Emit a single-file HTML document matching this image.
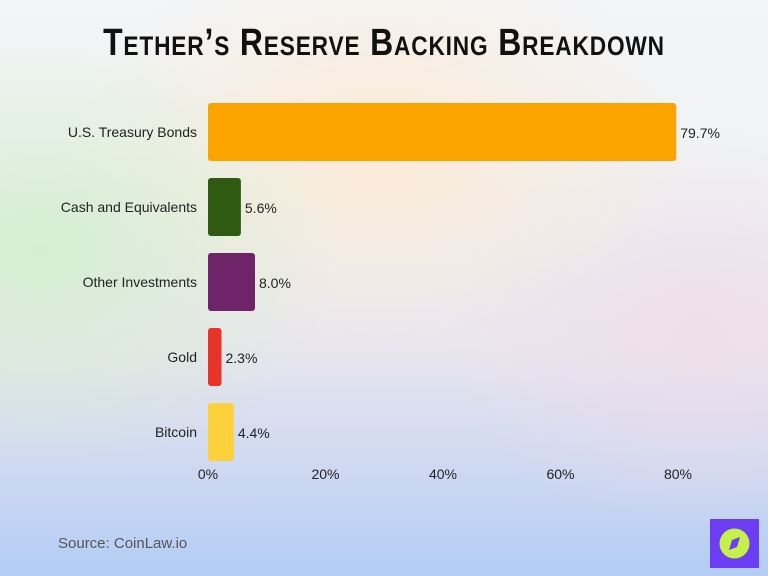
<!DOCTYPE html>
<html><head><meta charset="utf-8"><style>
body{margin:0;width:768px;height:576px;overflow:hidden;font-family:"Liberation Sans",sans-serif;}
#bg{position:absolute;left:0;top:0;width:768px;height:576px;
background:
radial-gradient(ellipse 300px 220px at 40px 250px, rgba(210,238,205,0.9), rgba(210,238,205,0)),
radial-gradient(ellipse 320px 200px at 380px 150px, rgba(255,232,208,0.8), rgba(255,232,208,0)),
radial-gradient(ellipse 260px 200px at 700px 330px, rgba(240,220,235,0.8), rgba(240,220,235,0)),
linear-gradient(180deg,#f3f5f8 0%,#f0f2f3 30%,#e9e6ee 60%,#c9d6f2 85%,#b3cdf5 100%);}
#title{position:absolute;left:0;top:22px;width:768px;text-align:center;font-weight:bold;font-size:38px;font-variant:small-caps;letter-spacing:1px;color:#111;transform:scaleX(0.84);transform-origin:384px 0;}
svg{position:absolute;left:0;top:0;}
#src{position:absolute;left:58px;top:535px;font-size:15px;color:#555;}
#logo{position:absolute;left:710px;top:519px;width:49px;height:49px;background:#6c3df2;}
</style></head><body>
<div id="bg"></div>
<div id="title">Tether’s Reserve Backing Breakdown</div>
<svg id="chart" width="768" height="576"></svg>
<div id="src">Source: CoinLaw.io</div>
<div id="logo">
<svg width="49" height="49"><circle cx="24.5" cy="24.5" r="15" fill="#c5f04a"/><path d="M30 18 L27 28 L19 31 L22 21 Z" fill="#6c3df2"/></svg></div>
<script>
const categories=["U.S. Treasury Bonds","Cash and Equivalents","Other Investments","Gold","Bitcoin"];
const values=[79.7,5.6,8.0,2.3,4.4];
const colors=["#fba400","#2f5a12","#6f2469","#e8332a","#fdd13c"];
const ticks=[0,20,40,60,80];
const svg=document.getElementById('chart');
const NS='http://www.w3.org/2000/svg';
const x=v=>208+v*(678-208)/80;
const yc=i=>132+i*75;
function mk(t,a){const e=document.createElementNS(NS,t);for(const k in a)e.setAttribute(k,a[k]);svg.appendChild(e);return e;}
categories.forEach((c,i)=>{
 const r=mk('rect',{x:x(0),y:yc(i)-29,width:x(values[i])-x(0),height:58,rx:3,fill:colors[i]});
 
 
 const l=mk('text',{x:197,y:yc(i)+5,'text-anchor':'end','font-size':14,fill:'#222'});l.textContent=c;
 
 
 const v=mk('text',{x:x(values[i])+4,y:yc(i)+6,'font-size':14,fill:'#222'});v.textContent=values[i].toFixed(1)+'%';
 
 
});
ticks.forEach(t=>{
 const e=mk('text',{x:x(t),y:479,'text-anchor':'middle','font-size':14,fill:'#222'});e.textContent=t+'%';
 
 
});
</script>
</body></html>
